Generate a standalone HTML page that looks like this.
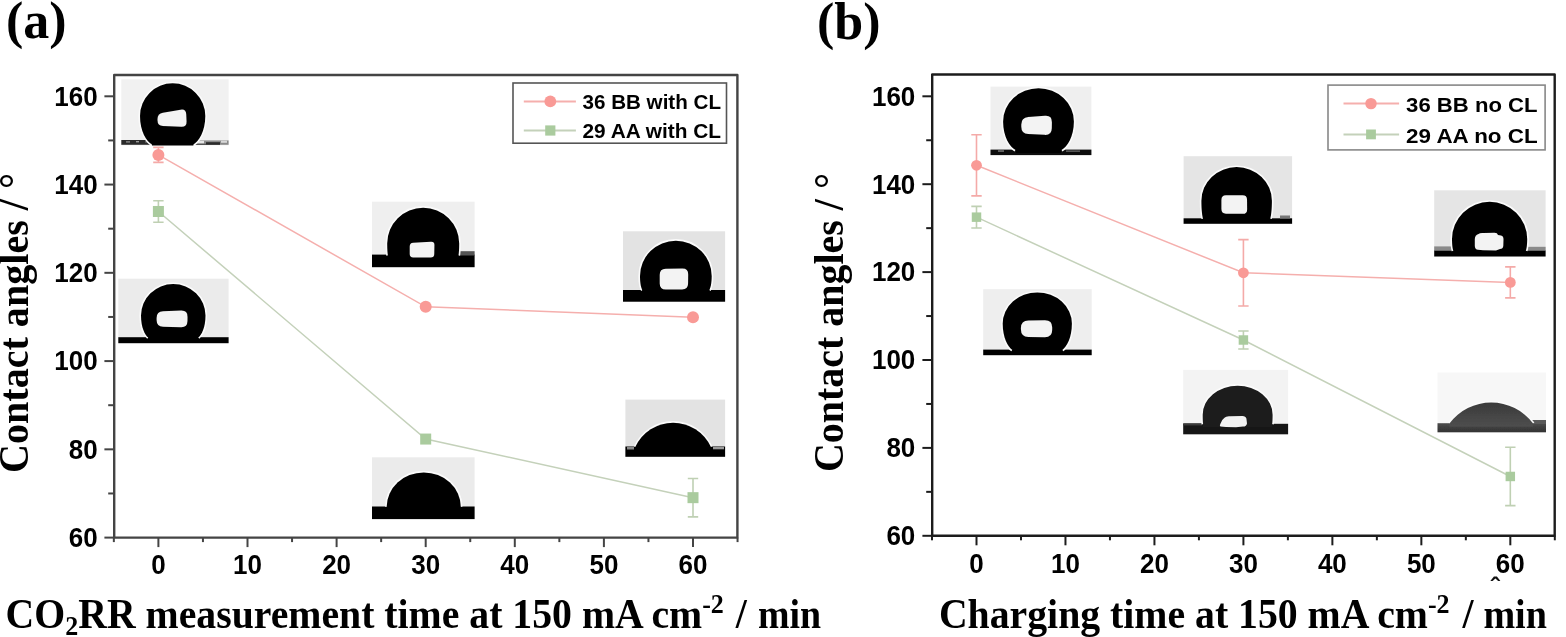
<!DOCTYPE html><html><head><meta charset="utf-8"><title>Contact angles</title><style>
html,body{margin:0;padding:0;background:#fff;overflow:hidden;}svg{display:block;}
.tk{font-family:"Liberation Sans",Arial,sans-serif;font-weight:bold;font-size:27.3px;fill:#000;}
.lg{font-family:"Liberation Sans",Arial,sans-serif;font-weight:bold;fill:#000;}
.ttl{font-family:"Liberation Serif","Times New Roman",serif;font-weight:bold;font-size:39.75px;fill:#000;}
.pl{font-family:"Liberation Serif","Times New Roman",serif;font-weight:bold;font-size:52px;fill:#000;}
</style></head><body>
<svg width="1566" height="637" viewBox="0 0 1566 637">
<defs><filter id="bl05" x="-5%" y="-5%" width="110%" height="110%"><feGaussianBlur stdDeviation="0.45"/></filter><filter id="bl1" x="-30%" y="-30%" width="160%" height="160%"><feGaussianBlur stdDeviation="0.55"/></filter></defs>
<rect width="1566" height="637" fill="#fff"/>
<text x="6" y="38" class="pl">(a)</text>
<text x="817" y="38.5" class="pl">(b)</text>
<line x1="104.4" y1="537.6" x2="114.2" y2="537.6" stroke="#444" stroke-width="2"/><text x="97.6" y="546.9" text-anchor="end" class="tk" textLength="28.91" lengthAdjust="spacingAndGlyphs">60</text><line x1="108.2" y1="493.47" x2="114.2" y2="493.47" stroke="#444" stroke-width="2"/><line x1="104.4" y1="449.34" x2="114.2" y2="449.34" stroke="#444" stroke-width="2"/><text x="97.6" y="458.64" text-anchor="end" class="tk" textLength="28.91" lengthAdjust="spacingAndGlyphs">80</text><line x1="108.2" y1="405.21" x2="114.2" y2="405.21" stroke="#444" stroke-width="2"/><line x1="104.4" y1="361.08" x2="114.2" y2="361.08" stroke="#444" stroke-width="2"/><text x="97.6" y="370.38" text-anchor="end" class="tk" textLength="43.37" lengthAdjust="spacingAndGlyphs">100</text><line x1="108.2" y1="316.95" x2="114.2" y2="316.95" stroke="#444" stroke-width="2"/><line x1="104.4" y1="272.82" x2="114.2" y2="272.82" stroke="#444" stroke-width="2"/><text x="97.6" y="282.12" text-anchor="end" class="tk" textLength="43.37" lengthAdjust="spacingAndGlyphs">120</text><line x1="108.2" y1="228.69" x2="114.2" y2="228.69" stroke="#444" stroke-width="2"/><line x1="104.4" y1="184.56" x2="114.2" y2="184.56" stroke="#444" stroke-width="2"/><text x="97.6" y="193.86" text-anchor="end" class="tk" textLength="43.37" lengthAdjust="spacingAndGlyphs">140</text><line x1="108.2" y1="140.43" x2="114.2" y2="140.43" stroke="#444" stroke-width="2"/><line x1="104.4" y1="96.3" x2="114.2" y2="96.3" stroke="#444" stroke-width="2"/><text x="97.6" y="105.6" text-anchor="end" class="tk" textLength="43.37" lengthAdjust="spacingAndGlyphs">160</text><line x1="113.85" y1="537.6" x2="113.85" y2="542.1" stroke="#444" stroke-width="2"/><line x1="158.4" y1="537.6" x2="158.4" y2="547.1" stroke="#444" stroke-width="2"/><text x="158.4" y="573.5" text-anchor="middle" class="tk" textLength="14.46" lengthAdjust="spacingAndGlyphs">0</text><line x1="202.95" y1="537.6" x2="202.95" y2="542.1" stroke="#444" stroke-width="2"/><line x1="247.5" y1="537.6" x2="247.5" y2="547.1" stroke="#444" stroke-width="2"/><text x="247.5" y="573.5" text-anchor="middle" class="tk" textLength="28.91" lengthAdjust="spacingAndGlyphs">10</text><line x1="292.05" y1="537.6" x2="292.05" y2="542.1" stroke="#444" stroke-width="2"/><line x1="336.6" y1="537.6" x2="336.6" y2="547.1" stroke="#444" stroke-width="2"/><text x="336.6" y="573.5" text-anchor="middle" class="tk" textLength="28.91" lengthAdjust="spacingAndGlyphs">20</text><line x1="381.15" y1="537.6" x2="381.15" y2="542.1" stroke="#444" stroke-width="2"/><line x1="425.7" y1="537.6" x2="425.7" y2="547.1" stroke="#444" stroke-width="2"/><text x="425.7" y="573.5" text-anchor="middle" class="tk" textLength="28.91" lengthAdjust="spacingAndGlyphs">30</text><line x1="470.25" y1="537.6" x2="470.25" y2="542.1" stroke="#444" stroke-width="2"/><line x1="514.8" y1="537.6" x2="514.8" y2="547.1" stroke="#444" stroke-width="2"/><text x="514.8" y="573.5" text-anchor="middle" class="tk" textLength="28.91" lengthAdjust="spacingAndGlyphs">40</text><line x1="559.35" y1="537.6" x2="559.35" y2="542.1" stroke="#444" stroke-width="2"/><line x1="603.9" y1="537.6" x2="603.9" y2="547.1" stroke="#444" stroke-width="2"/><text x="603.9" y="573.5" text-anchor="middle" class="tk" textLength="28.91" lengthAdjust="spacingAndGlyphs">50</text><line x1="648.45" y1="537.6" x2="648.45" y2="542.1" stroke="#444" stroke-width="2"/><line x1="693" y1="537.6" x2="693" y2="547.1" stroke="#444" stroke-width="2"/><text x="693" y="573.5" text-anchor="middle" class="tk" textLength="28.91" lengthAdjust="spacingAndGlyphs">60</text><line x1="737.55" y1="537.6" x2="737.55" y2="542.1" stroke="#444" stroke-width="2"/><rect x="114.2" y="75" width="623.2" height="462.6" fill="none" stroke="#444" stroke-width="2.4" stroke-linejoin="round"/>
<line x1="922.4" y1="535.8" x2="932.2" y2="535.8" stroke="#1c1c1c" stroke-width="2"/><text x="915.3" y="545.1" text-anchor="end" class="tk" textLength="28.91" lengthAdjust="spacingAndGlyphs">60</text><line x1="926.2" y1="491.85" x2="932.2" y2="491.85" stroke="#1c1c1c" stroke-width="2"/><line x1="922.4" y1="447.9" x2="932.2" y2="447.9" stroke="#1c1c1c" stroke-width="2"/><text x="915.3" y="457.2" text-anchor="end" class="tk" textLength="28.91" lengthAdjust="spacingAndGlyphs">80</text><line x1="926.2" y1="403.95" x2="932.2" y2="403.95" stroke="#1c1c1c" stroke-width="2"/><line x1="922.4" y1="360" x2="932.2" y2="360" stroke="#1c1c1c" stroke-width="2"/><text x="915.3" y="369.3" text-anchor="end" class="tk" textLength="43.37" lengthAdjust="spacingAndGlyphs">100</text><line x1="926.2" y1="316.05" x2="932.2" y2="316.05" stroke="#1c1c1c" stroke-width="2"/><line x1="922.4" y1="272.1" x2="932.2" y2="272.1" stroke="#1c1c1c" stroke-width="2"/><text x="915.3" y="281.4" text-anchor="end" class="tk" textLength="43.37" lengthAdjust="spacingAndGlyphs">120</text><line x1="926.2" y1="228.15" x2="932.2" y2="228.15" stroke="#1c1c1c" stroke-width="2"/><line x1="922.4" y1="184.2" x2="932.2" y2="184.2" stroke="#1c1c1c" stroke-width="2"/><text x="915.3" y="193.5" text-anchor="end" class="tk" textLength="43.37" lengthAdjust="spacingAndGlyphs">140</text><line x1="926.2" y1="140.25" x2="932.2" y2="140.25" stroke="#1c1c1c" stroke-width="2"/><line x1="922.4" y1="96.3" x2="932.2" y2="96.3" stroke="#1c1c1c" stroke-width="2"/><text x="915.3" y="105.6" text-anchor="end" class="tk" textLength="43.37" lengthAdjust="spacingAndGlyphs">160</text><line x1="932.01" y1="535.8" x2="932.01" y2="540.3" stroke="#1c1c1c" stroke-width="2"/><line x1="976.5" y1="535.8" x2="976.5" y2="545.3" stroke="#1c1c1c" stroke-width="2"/><text x="976.5" y="573.3" text-anchor="middle" class="tk" textLength="14.46" lengthAdjust="spacingAndGlyphs">0</text><line x1="1020.99" y1="535.8" x2="1020.99" y2="540.3" stroke="#1c1c1c" stroke-width="2"/><line x1="1065.47" y1="535.8" x2="1065.47" y2="545.3" stroke="#1c1c1c" stroke-width="2"/><text x="1065.47" y="573.3" text-anchor="middle" class="tk" textLength="28.91" lengthAdjust="spacingAndGlyphs">10</text><line x1="1109.95" y1="535.8" x2="1109.95" y2="540.3" stroke="#1c1c1c" stroke-width="2"/><line x1="1154.44" y1="535.8" x2="1154.44" y2="545.3" stroke="#1c1c1c" stroke-width="2"/><text x="1154.44" y="573.3" text-anchor="middle" class="tk" textLength="28.91" lengthAdjust="spacingAndGlyphs">20</text><line x1="1198.92" y1="535.8" x2="1198.92" y2="540.3" stroke="#1c1c1c" stroke-width="2"/><line x1="1243.41" y1="535.8" x2="1243.41" y2="545.3" stroke="#1c1c1c" stroke-width="2"/><text x="1243.41" y="573.3" text-anchor="middle" class="tk" textLength="28.91" lengthAdjust="spacingAndGlyphs">30</text><line x1="1287.89" y1="535.8" x2="1287.89" y2="540.3" stroke="#1c1c1c" stroke-width="2"/><line x1="1332.38" y1="535.8" x2="1332.38" y2="545.3" stroke="#1c1c1c" stroke-width="2"/><text x="1332.38" y="573.3" text-anchor="middle" class="tk" textLength="28.91" lengthAdjust="spacingAndGlyphs">40</text><line x1="1376.87" y1="535.8" x2="1376.87" y2="540.3" stroke="#1c1c1c" stroke-width="2"/><line x1="1421.35" y1="535.8" x2="1421.35" y2="545.3" stroke="#1c1c1c" stroke-width="2"/><text x="1421.35" y="573.3" text-anchor="middle" class="tk" textLength="28.91" lengthAdjust="spacingAndGlyphs">50</text><line x1="1465.84" y1="535.8" x2="1465.84" y2="540.3" stroke="#1c1c1c" stroke-width="2"/><line x1="1510.32" y1="535.8" x2="1510.32" y2="545.3" stroke="#1c1c1c" stroke-width="2"/><text x="1510.32" y="573.3" text-anchor="middle" class="tk" textLength="28.91" lengthAdjust="spacingAndGlyphs">60</text><line x1="1554.81" y1="535.8" x2="1554.81" y2="540.3" stroke="#1c1c1c" stroke-width="2"/><rect x="932.2" y="74.5" width="622.5" height="461.3" fill="none" stroke="#1c1c1c" stroke-width="2.4" stroke-linejoin="round"/>
<g filter="url(#bl05)"><rect x="121.3" y="79.3" width="107.3" height="66.1" fill="#f1f1f1"/><rect x="121.3" y="140" width="32.7" height="4.8" fill="#2b2b2b" /><rect x="126" y="141.2" width="4" height="1.4" fill="#888" /><rect x="136" y="141" width="3" height="1.4" fill="#999" /><rect x="145" y="141.3" width="3" height="1.2" fill="#777" /><rect x="192" y="140.4" width="36.6" height="4.4" fill="#8a8a8a" /><rect x="194" y="140.8" width="10" height="2.6" fill="#e6e6e6" /><rect x="206" y="142.2" width="14" height="2.6" fill="#2a2a2a" /><rect x="221" y="140.6" width="6" height="2.2" fill="#d8d8d8" /><rect x="192" y="143.8" width="14" height="1" fill="#444" /><path d="M151.95,144.6 C146.57,141.17 140,131.73 140,116 A32.65,32.7 0 0 1 205.3,116 C205.3,131.73 198.73,141.17 193.35,144.6" fill="none" stroke="#fbfbfb" stroke-width="3.2"/><path d="M151.95,144.6 C146.57,141.17 140,131.73 140,116 A32.65,32.7 0 0 1 205.3,116 C205.3,131.73 198.73,141.17 193.35,144.6 L193.35,145.4 L151.95,145.4 Z" fill="#030303"/><path d="M162.92,112.69 L180.58,109.71 Q186,108.8 186.24,114.29 L186.56,121.61 Q186.8,127.1 181.31,126.86 L162.99,126.04 Q157.5,125.8 157.5,120.3 L157.5,119.1 Q157.5,113.6 162.92,112.69 Z" fill="#f3f3f3" filter="url(#bl1)"/></g>
<g filter="url(#bl05)"><rect x="118.3" y="278.7" width="110.3" height="64.5" fill="#ebebeb"/><rect x="118.3" y="337.2" width="110.3" height="6" fill="#050505" /><path d="M148.25,337.6 C144.99,334.95 141,327.66 141,315.5 A32.25,31.5 0 0 1 205.5,315.5 C205.5,327.66 201.51,334.95 198.25,337.6" fill="none" stroke="#fbfbfb" stroke-width="3.2"/><path d="M148.25,337.6 C144.99,334.95 141,327.66 141,315.5 A32.25,31.5 0 0 1 205.5,315.5 C205.5,327.66 201.51,334.95 198.25,337.6 L198.25,340.6 L148.25,340.6 Z" fill="#030303"/><path d="M163.1,311.19 L181.1,310.61 Q187.6,310.4 187.52,316.9 L187.48,321.1 Q187.4,327.6 180.9,327.35 L163.1,326.65 Q156.6,326.4 156.6,319.9 L156.6,317.9 Q156.6,311.4 163.1,311.19 Z" fill="#f3f3f3" filter="url(#bl1)"/></g>
<g filter="url(#bl05)"><rect x="372" y="201.7" width="102.6" height="65.5" fill="#efefef"/><rect x="372" y="254.6" width="102.6" height="12.6" fill="#000" /><rect x="459" y="251.2" width="15.6" height="4.3" fill="#555" /><path d="M387.9,255.4 C387.58,253.97 387.2,250.05 387.2,243.5 A36,35.8 0 0 1 459.2,243.5 C459.2,250.05 458.81,253.97 458.5,255.4" fill="none" stroke="#fbfbfb" stroke-width="3.2"/><path d="M387.9,255.4 C387.58,253.97 387.2,250.05 387.2,243.5 A36,35.8 0 0 1 459.2,243.5 C459.2,250.05 458.81,253.97 458.5,255.4 L458.5,258.4 L387.9,258.4 Z" fill="#000"/><path d="M413.2,242.72 L431,241.78 Q434.5,241.6 434.43,245.1 L434.27,253.9 Q434.2,257.4 430.7,257.43 L413.2,257.57 Q409.7,257.6 409.7,254.1 L409.7,246.4 Q409.7,242.9 413.2,242.72 Z" fill="#f3f3f3" filter="url(#bl1)"/></g>
<g filter="url(#bl05)"><rect x="372" y="457.3" width="102.6" height="61.8" fill="#ebebeb"/><rect x="372" y="506.5" width="102.6" height="12.6" fill="#000" /><path d="M386.7,506.8 A37.05,34.4 0 0 1 460.8,506.8" fill="none" stroke="#fbfbfb" stroke-width="3.2"/><path d="M386.7,506.8 A37.05,34.4 0 0 1 460.8,506.8 L460.8,509 L386.7,509 Z" fill="#000"/></g>
<g filter="url(#bl05)"><rect x="623" y="231.3" width="102.1" height="70.4" fill="#e3e3e3"/><rect x="623" y="290" width="102.1" height="11.7" fill="#000" /><path d="M642.45,290.2 C641.35,288.5 640,283.81 640,276 A35.85,35.3 0 0 1 711.7,276 C711.7,283.81 710.35,288.5 709.25,290.2" fill="none" stroke="#fbfbfb" stroke-width="3.2"/><path d="M642.45,290.2 C641.35,288.5 640,283.81 640,276 A35.85,35.3 0 0 1 711.7,276 C711.7,283.81 710.35,288.5 709.25,290.2 L709.25,293.2 L642.45,293.2 Z" fill="#000"/><path d="M665.7,268.74 L682.3,268.56 Q688.3,268.5 688.21,274.5 L688.09,283.6 Q688,289.6 682,289.56 L665.7,289.44 Q659.7,289.4 659.7,283.4 L659.7,274.8 Q659.7,268.8 665.7,268.74 Z" fill="#f3f3f3" filter="url(#bl1)"/></g>
<g filter="url(#bl05)"><rect x="625.4" y="399.6" width="99.7" height="57.2" fill="#e3e3e3"/><rect x="625.4" y="446.5" width="99.7" height="10.3" fill="#000" /><rect x="627" y="447" width="7" height="2.5" fill="#888" /><rect x="713" y="447" width="11" height="2.3" fill="#999" /><path d="M635.4,446.8 A41.54,41.54 0 0 1 710.8,446.8" fill="none" stroke="#fbfbfb" stroke-width="3.2"/><path d="M635.4,446.8 A41.54,41.54 0 0 1 710.8,446.8 L710.8,449.8 L635.4,449.8 Z" fill="#000"/></g>
<g filter="url(#bl05)"><rect x="990.5" y="86.6" width="100.9" height="68.5" fill="#efefef"/><rect x="990.5" y="149.6" width="100.9" height="5.5" fill="#0c0c0c" /><rect x="998" y="150.3" width="6" height="1.5" fill="#777" /><rect x="1066" y="150.3" width="14" height="1.7" fill="#555" /><path d="M1015.5,150.1 C1009.92,146.67 1003.1,137.23 1003.1,121.5 A35.4,33.2 0 0 1 1073.9,121.5 C1073.9,137.23 1067.08,146.67 1061.5,150.1" fill="none" stroke="#fbfbfb" stroke-width="3.2"/><path d="M1015.5,150.1 C1009.92,146.67 1003.1,137.23 1003.1,121.5 A35.4,33.2 0 0 1 1073.9,121.5 C1073.9,137.23 1067.08,146.67 1061.5,150.1 L1061.5,153.1 L1015.5,153.1 Z" fill="#030303"/><path d="M1028.28,117.05 L1045.02,115.75 Q1052,115.2 1051.9,122.2 L1051.8,128.2 Q1051.7,135.2 1044.71,134.86 L1028.29,134.04 Q1021.3,133.7 1021.3,126.7 L1021.3,124.6 Q1021.3,117.6 1028.28,117.05 Z" fill="#f3f3f3" filter="url(#bl1)"/></g>
<g filter="url(#bl05)"><rect x="1183.6" y="156.2" width="108.5" height="67.6" fill="#e5e5e5"/><rect x="1183.6" y="218.3" width="108.5" height="5.5" fill="#050505" /><rect x="1280" y="215.5" width="10" height="3" fill="#777" /><path d="M1203.05,218.6 C1202.31,216.45 1201.4,210.54 1201.4,200.7 A35.25,33.6 0 0 1 1271.9,200.7 C1271.9,210.54 1270.99,216.45 1270.25,218.6" fill="none" stroke="#fbfbfb" stroke-width="3.2"/><path d="M1203.05,218.6 C1202.31,216.45 1201.4,210.54 1201.4,200.7 A35.25,33.6 0 0 1 1271.9,200.7 C1271.9,210.54 1270.99,216.45 1270.25,218.6 L1270.25,221.6 L1203.05,221.6 Z" fill="#000"/><path d="M1225.9,195.36 L1242.5,195.24 Q1247,195.2 1247.05,199.7 L1247.15,209.4 Q1247.2,213.9 1242.7,213.85 L1225.9,213.65 Q1221.4,213.6 1221.4,209.1 L1221.4,199.9 Q1221.4,195.4 1225.9,195.36 Z" fill="#f3f3f3" filter="url(#bl1)"/></g>
<g filter="url(#bl05)"><rect x="1434.2" y="190.3" width="111.4" height="66.2" fill="#e5e5e5"/><rect x="1434.2" y="250.3" width="111.4" height="6.2" fill="#050505" /><rect x="1434.2" y="246.4" width="17.8" height="4.1" fill="#8a8a8a" /><rect x="1527" y="246.8" width="18.6" height="3.7" fill="#8a8a8a" /><path d="M1453.3,250.6 C1452.71,249.21 1452,245.38 1452,239 A37.6,37.2 0 0 1 1527.2,239 C1527.2,245.38 1526.48,249.21 1525.9,250.6" fill="none" stroke="#fbfbfb" stroke-width="3.2"/><path d="M1453.3,250.6 C1452.71,249.21 1452,245.38 1452,239 A37.6,37.2 0 0 1 1527.2,239 C1527.2,245.38 1526.48,249.21 1525.9,250.6 L1525.9,253.6 L1453.3,253.6 Z" fill="#000"/><path d="M1478.5,234 Q1480,232.5 1484,233 L1494,232.8 Q1497.5,232.6 1498,235 L1501,235.5 Q1503.6,236 1503.5,239.5 L1503.3,246 Q1503,249 1500,249 L1496,250.6 L1483,250.2 L1478,249.8 Q1475,249.4 1474.8,246 L1474.8,239 Q1475,235 1478.5,234 Z" fill="#f3f3f3" filter="url(#bl1)"/></g>
<g filter="url(#bl05)"><rect x="983.2" y="289.2" width="108.5" height="66" fill="#eeeeee"/><rect x="983.2" y="349.6" width="108.5" height="5.6" fill="#050505" /><path d="M1012.3,350 C1007.98,346.82 1002.7,338.07 1002.7,323.5 A34.6,31 0 0 1 1071.9,323.5 C1071.9,338.07 1066.62,346.82 1062.3,350" fill="none" stroke="#fbfbfb" stroke-width="3.2"/><path d="M1012.3,350 C1007.98,346.82 1002.7,338.07 1002.7,323.5 A34.6,31 0 0 1 1071.9,323.5 C1071.9,338.07 1066.62,346.82 1062.3,350 L1062.3,353 L1012.3,353 Z" fill="#030303"/><path d="M1028.4,320.4 L1044.8,320.2 Q1052.3,320.1 1052.21,327.6 L1052.19,330 Q1052.1,337.5 1044.6,337.31 L1028.4,336.89 Q1020.9,336.7 1020.9,329.2 L1020.9,328 Q1020.9,320.5 1028.4,320.4 Z" fill="#f3f3f3" filter="url(#bl1)"/></g>
<g filter="url(#bl05)"><rect x="1183.2" y="369.9" width="104.9" height="64.4" fill="#f3f3f3"/><rect x="1183.2" y="423.8" width="104.9" height="10.5" fill="#161616" /><rect x="1183.2" y="423.2" width="18.8" height="2.3" fill="#3a3a3a" /><path d="M1203.15,424.1 C1202.95,422.97 1202.7,419.87 1202.7,414.7 A34.95,29 0 0 1 1272.6,414.7 C1272.6,419.87 1272.35,422.97 1272.15,424.1" fill="none" stroke="#fbfbfb" stroke-width="3.2"/><path d="M1203.15,424.1 C1202.95,422.97 1202.7,419.87 1202.7,414.7 A34.95,29 0 0 1 1272.6,414.7 C1272.6,419.87 1272.35,422.97 1272.15,424.1 L1272.15,427.1 L1203.15,427.1 Z" fill="#1b1b1b"/><path d="M1224.5,417.8 Q1226,416 1230,416.3 L1242,416 Q1245.6,415.8 1246.4,418.6 L1247,423.5 Q1246.5,426.6 1243,426.6 L1236,427.2 L1226,427 L1220.5,426.6 Q1219.4,426 1220.2,424.2 Q1221.5,419.8 1224.5,417.8 Z" fill="#f2f2f2" filter="url(#bl1)"/></g>
<defs><linearGradient id="g6" x1="0" y1="0" x2="0" y2="1"><stop offset="0" stop-color="#3a3a3a"/><stop offset="1" stop-color="#4e4e4e"/></linearGradient><linearGradient id="g6b" x1="0" y1="0" x2="0" y2="1"><stop offset="0" stop-color="#4e4e4e"/><stop offset="0.5" stop-color="#3e3e3e"/><stop offset="1" stop-color="#333"/></linearGradient></defs>
<g filter="url(#bl05)"><rect x="1437.5" y="372.5" width="108.5" height="59.8" fill="#f7f7f7"/><rect x="1437.5" y="423.2" width="108.5" height="9.1" fill="url(#g6b)" /><rect x="1528" y="420" width="18" height="4" fill="#5a5a5a" /><path d="M1449.4,423.4 A52.35,52.35 0 0 1 1533.1,423.4" fill="none" stroke="#fbfbfb" stroke-width="3.2"/><path d="M1449.4,423.4 A52.35,52.35 0 0 1 1533.1,423.4 L1533.1,426.4 L1449.4,426.4 Z" fill="url(#g6)"/></g>
<path d="M158.4,154.9 L425.7,306.8 L693,317.17" fill="none" stroke="#f5afad" stroke-width="1.5"/><path d="M158.4,147.4 V162.4 M153.2,147.4 H163.6 M153.2,162.4 H163.6" stroke="#f4aaa8" stroke-width="1.6" fill="none"/><circle cx="158.4" cy="154.9" r="6" fill="#f99a96"/><circle cx="425.7" cy="306.8" r="6" fill="#f99a96"/><circle cx="693" cy="317.17" r="6" fill="#f99a96"/>
<path d="M158.4,211.48 L425.7,439.06 L693,497.66" fill="none" stroke="#c4d1ba" stroke-width="1.5"/><path d="M158.4,200.68 V222.28 M153.2,200.68 H163.6 M153.2,222.28 H163.6" stroke="#bfd0b3" stroke-width="1.6" fill="none"/><path d="M693,478.46 V516.86 M687.8,478.46 H698.2 M687.8,516.86 H698.2" stroke="#bfd0b3" stroke-width="1.6" fill="none"/><rect x="152.9" y="205.98" width="11" height="11" fill="#aacb9e"/><rect x="420.2" y="433.56" width="11" height="11" fill="#aacb9e"/><rect x="687.5" y="492.16" width="11" height="11" fill="#aacb9e"/>
<path d="M976.5,165.3 L1243.41,272.8 L1510.32,282.38" fill="none" stroke="#f5afad" stroke-width="1.5"/><path d="M976.5,134.7 V195.9 M971.3,134.7 H981.7 M971.3,195.9 H981.7" stroke="#f4aaa8" stroke-width="1.6" fill="none"/><path d="M1243.41,239.6 V306 M1238.21,239.6 H1248.61 M1238.21,306 H1248.61" stroke="#f4aaa8" stroke-width="1.6" fill="none"/><path d="M1510.32,266.88 V297.88 M1505.12,266.88 H1515.52 M1505.12,297.88 H1515.52" stroke="#f4aaa8" stroke-width="1.6" fill="none"/><circle cx="976.5" cy="165.3" r="5.4" fill="#f99a96"/><circle cx="1243.41" cy="272.8" r="5.4" fill="#f99a96"/><circle cx="1510.32" cy="282.38" r="5.4" fill="#f99a96"/>
<path d="M976.5,217.16 L1243.41,340 L1510.32,476.47" fill="none" stroke="#c4d1ba" stroke-width="1.5"/><path d="M976.5,206.36 V227.96 M971.3,206.36 H981.7 M971.3,227.96 H981.7" stroke="#bfd0b3" stroke-width="1.6" fill="none"/><path d="M1243.41,331 V349 M1238.21,331 H1248.61 M1238.21,349 H1248.61" stroke="#bfd0b3" stroke-width="1.6" fill="none"/><path d="M1510.32,447.27 V505.67 M1505.12,447.27 H1515.52 M1505.12,505.67 H1515.52" stroke="#bfd0b3" stroke-width="1.6" fill="none"/><rect x="971.77" y="212.43" width="9.46" height="9.46" fill="#aacb9e"/><rect x="1238.68" y="335.27" width="9.46" height="9.46" fill="#aacb9e"/><rect x="1505.59" y="471.74" width="9.46" height="9.46" fill="#aacb9e"/>
<rect x="513" y="83" width="213.5" height="60.2" fill="#fff" stroke="#555" stroke-width="1.6"/><line x1="523.8" y1="101.4" x2="575.9" y2="101.4" stroke="#f5afad" stroke-width="2"/><circle cx="550.3" cy="101.4" r="5.9" fill="#f99a96"/><line x1="523.8" y1="130.5" x2="575.9" y2="130.5" stroke="#c4d1ba" stroke-width="2"/><rect x="545.2" y="125.4" width="10.2" height="10.2" fill="#aacb9e"/><text x="582.5" y="108.9" class="lg" font-size="19.5" textLength="138.5" lengthAdjust="spacingAndGlyphs">36 BB with CL</text><text x="582.5" y="137.7" class="lg" font-size="19.5" textLength="138.5" lengthAdjust="spacingAndGlyphs">29 AA with CL</text>
<rect x="1328" y="85.1" width="217.1" height="64.8" fill="#fff" stroke="#888" stroke-width="1.6"/><line x1="1343.5" y1="103.6" x2="1399.1" y2="103.6" stroke="#f5afad" stroke-width="2"/><circle cx="1371" cy="103.6" r="5.7" fill="#f99a96"/><line x1="1343.5" y1="134.4" x2="1399.1" y2="134.4" stroke="#c4d1ba" stroke-width="2"/><rect x="1366.1" y="129.5" width="9.8" height="9.8" fill="#aacb9e"/><text x="1406.1" y="111.6" class="lg" font-size="20.8" textLength="131.5" lengthAdjust="spacingAndGlyphs">36 BB no CL</text><text x="1406.1" y="143" class="lg" font-size="20.8" textLength="131.5" lengthAdjust="spacingAndGlyphs">29 AA no CL</text>
<text class="ttl" transform="translate(28,473) rotate(-90) scale(1,1.04)" textLength="300" lengthAdjust="spacingAndGlyphs">Contact angles / °</text>
<text class="ttl" transform="translate(843,472.1) rotate(-90) scale(1,1.04)" textLength="299" lengthAdjust="spacingAndGlyphs">Contact angles / °</text>
<text class="ttl" transform="translate(5.6,627.5) scale(1,1.04)">CO<tspan font-size="26" dy="6.8">2</tspan><tspan dy="-6.8">RR measurement time at 150 mA cm</tspan><tspan font-size="26" dy="-13.5">-2</tspan><tspan dy="13.5" x="730.2">/</tspan><tspan x="752.4" textLength="63.1" lengthAdjust="spacingAndGlyphs">min</tspan></text>
<text class="ttl" transform="translate(938.9,627.5) scale(1,1.04)">Charging time at 150 mA cm<tspan font-size="26" dy="-13.5">-2</tspan><tspan dy="13.5" x="523.5">/</tspan><tspan x="544.5" textLength="63.5" lengthAdjust="spacingAndGlyphs">min</tspan></text>
<text x="1490.6" y="597" style="font-family:Liberation Sans,sans-serif;font-weight:bold;font-size:27px;fill:#111">ˆ</text>
</svg></body></html>
